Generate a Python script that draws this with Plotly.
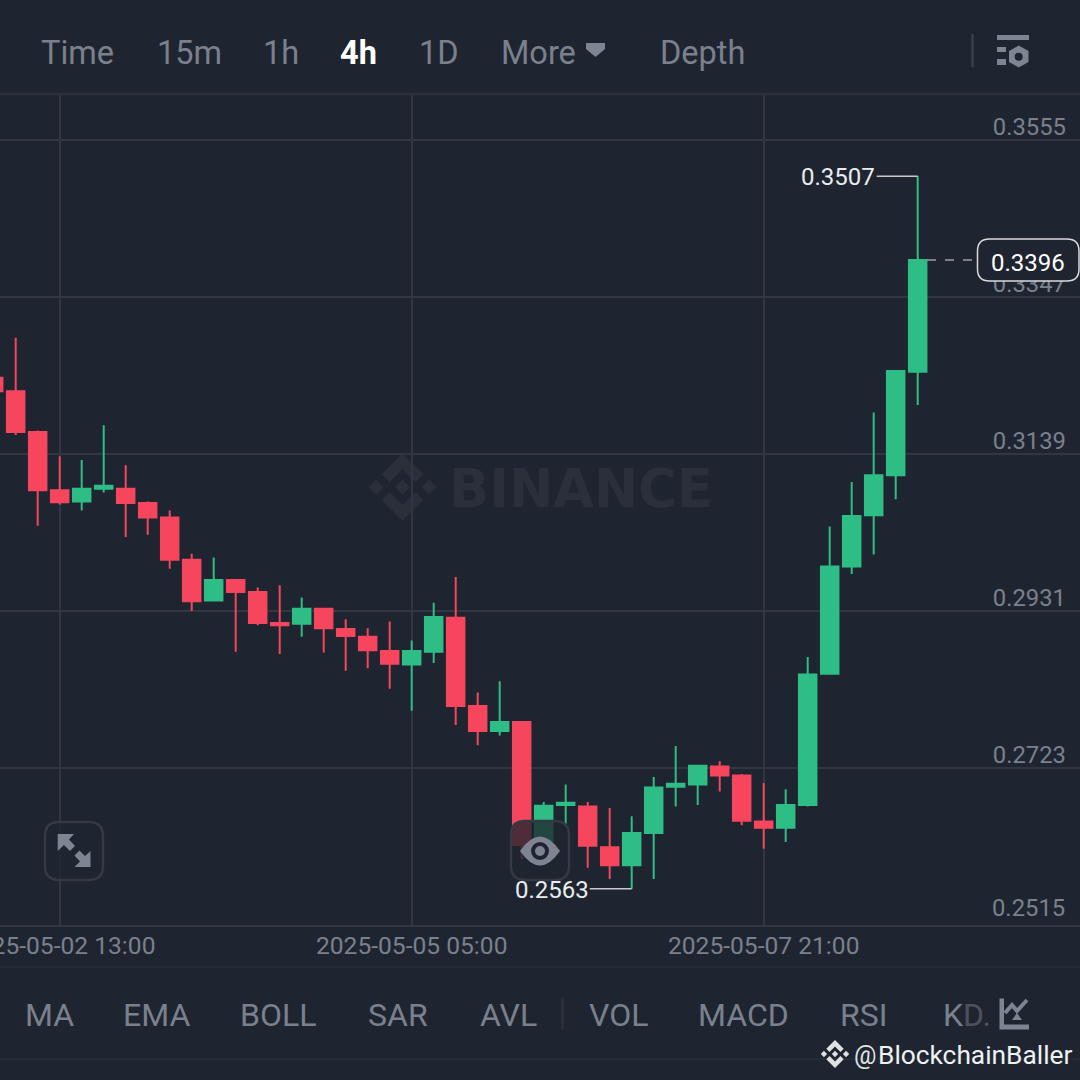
import pandas as pd
import plotly.graph_objects as go

# colours
bg = '#1f2530'
up = '#2ebd85'
down = '#f6465d'
grid = '#313641'
grey = '#7a808d'
icon = '#7e8492'
white = '#eaecef'

# 4h candles, first one is mostly off screen
dates = pd.date_range('2025-05-02 01:00', periods=43, freq='4h')
opens = [0.3240, 0.3222, 0.3168, 0.3091, 0.3076, 0.3093, 0.3093, 0.3074, 0.3055, 0.2999, 0.2945,
         0.2972, 0.2956, 0.2915, 0.2914, 0.2934, 0.2907, 0.2897, 0.2878, 0.2860, 0.2877, 0.2922,
         0.2805, 0.2772, 0.2784, 0.2621, 0.2674, 0.2672, 0.2618, 0.2594, 0.2637, 0.2698, 0.2701,
         0.2725, 0.2713, 0.2652, 0.2644, 0.2674, 0.2848, 0.2990, 0.3058, 0.3111, 0.3248]
closes = [0.3222, 0.3168, 0.3091, 0.3075, 0.3093, 0.3097, 0.3074, 0.3055, 0.2999, 0.2944, 0.2972,
          0.2956, 0.2915, 0.2912, 0.2934, 0.2908, 0.2898, 0.2879, 0.2861, 0.2878, 0.2923, 0.2805,
          0.2772, 0.2784, 0.2621, 0.2673, 0.2677, 0.2620, 0.2594, 0.2637, 0.2697, 0.2702, 0.2726,
          0.2713, 0.2653, 0.2644, 0.2674, 0.2847, 0.2990, 0.3057, 0.3111, 0.3249, 0.3396]
highs = [0.3246, 0.3293, 0.3170, 0.3136, 0.3131, 0.3177, 0.3124, 0.3076, 0.3064, 0.3007, 0.3002,
         0.2973, 0.2962, 0.2965, 0.2949, 0.2934, 0.2920, 0.2908, 0.2917, 0.2892, 0.2942, 0.2976,
         0.2823, 0.2838, 0.2785, 0.2678, 0.2701, 0.2678, 0.2670, 0.2659, 0.2711, 0.2752, 0.2727,
         0.2732, 0.2715, 0.2703, 0.2695, 0.2870, 0.3043, 0.3102, 0.3194, 0.3249, 0.3507]
lows = [0.3218, 0.3164, 0.3044, 0.3072, 0.3064, 0.3088, 0.3029, 0.3032, 0.2987, 0.2931, 0.2945,
        0.2877, 0.2912, 0.2874, 0.2897, 0.2876, 0.2852, 0.2855, 0.2828, 0.2799, 0.2862, 0.2780,
        0.2753, 0.2766, 0.2602, 0.2612, 0.2645, 0.2591, 0.2576, 0.2563, 0.2576, 0.2672, 0.2674,
        0.2692, 0.2647, 0.2616, 0.2625, 0.2672, 0.2848, 0.2980, 0.3006, 0.3079, 0.3204]

y_ticks = [0.2723, 0.2931, 0.3139, 0.3347, 0.3555]
x_ticks = ['2025-05-02 13:00', '2025-05-05 05:00', '2025-05-07 21:00']
last_price = 0.3396
i_high = highs.index(max(highs))
i_low = lows.index(min(lows))

top_items = [('Time', 39.5), ('15m', 155.5), ('1h', 261.5), ('1D', 417.5), ('More', 499.5), ('Depth', 658.5)]
bottom_items = [('MA', 24), ('EMA', 122), ('BOLL', 239), ('SAR', 367), ('AVL', 479), ('VOL', 588), ('MACD', 697), ('RSI', 839)]


def fx(x):
    return x / 1080


def fy(y):
    return 1 - y / 1080


def poly(pts):
    return 'M ' + ' L '.join(f'{fx(x):.5f},{fy(y):.5f}' for x, y in pts) + ' Z'


def round_rect(x0, y0, x1, y1, r):
    return (f'M {fx(x0 + r):.5f},{fy(y0):.5f} L {fx(x1 - r):.5f},{fy(y0):.5f} Q {fx(x1):.5f},{fy(y0):.5f} {fx(x1):.5f},{fy(y0 + r):.5f} '
            f'L {fx(x1):.5f},{fy(y1 - r):.5f} Q {fx(x1):.5f},{fy(y1):.5f} {fx(x1 - r):.5f},{fy(y1):.5f} '
            f'L {fx(x0 + r):.5f},{fy(y1):.5f} Q {fx(x0):.5f},{fy(y1):.5f} {fx(x0):.5f},{fy(y1 - r):.5f} '
            f'L {fx(x0):.5f},{fy(y0 + r):.5f} Q {fx(x0):.5f},{fy(y0):.5f} {fx(x0 + r):.5f},{fy(y0):.5f} Z')


fig = go.Figure()
fig.add_trace(go.Candlestick(x=dates, open=opens, high=highs, low=lows, close=closes,
                             increasing=dict(line=dict(color=up, width=2), fillcolor=up),
                             decreasing=dict(line=dict(color=down, width=2), fillcolor=down),
                             whiskerwidth=0))


def add_path(path, color, line=None, width=0, layer='above'):
    fig.add_shape(type='path', path=path, xref='paper', yref='paper', fillcolor=color, layer=layer,
                  line=dict(color=line or color, width=width))


def add_line(x0, y0, x1, y1, color, width=1):
    fig.add_shape(type='line', xref='paper', yref='paper', x0=fx(x0), y0=fy(y0), x1=fx(x1), y1=fy(y1),
                  line=dict(color=color, width=width))


def add_text(text, x, y, size, color, anchor='left', family='Roboto', weight=None):
    fig.add_annotation(text=text, xref='paper', yref='paper', x=fx(x), y=fy(y), xanchor=anchor, yanchor='middle',
                       showarrow=False, borderpad=0, font=dict(size=size, color=color, family=family, weight=weight))


def add_logo(cx, cy, r, color, layer='above'):
    d = 0.225
    for sx, sy in [(0, 0), (-0.79, 0), (0.79, 0)]:
        add_path(poly([(cx + (sx - d) * r, cy + sy * r), (cx + sx * r, cy - d * r), (cx + (sx + d) * r, cy), (cx + sx * r, cy + d * r)]), color, layer=layer)
    for s in (-1, 1):
        add_path(poly([(cx, cy + s * r), (cx + 0.62 * r, cy + s * 0.38 * r), (cx + 0.39 * r, cy + s * 0.15 * r), (cx, cy + s * 0.54 * r),
                       (cx - 0.39 * r, cy + s * 0.15 * r), (cx - 0.62 * r, cy + s * 0.38 * r)]), color, layer=layer)


# watermark
add_logo(402.5, 487, 33.5, '#2a2f3a', layer='below')
add_text('BINANCE', 448, 488, 52.8, '#2a2f3a', family='DejaVu Sans', weight='bold')

# page rules
add_line(0, 94, 1080, 94, '#2a2f3a', 2.5)
add_line(0, 967, 1080, 967, '#2a2f3a', 1.5)
add_line(0, 1059, 1080, 1059, '#2a2f3a', 1.5)

# top bar
for label, x in top_items:
    add_text(label, x, 53, 32.5, grey)
add_text('4h', 338.5, 53, 32.5, '#ffffff', weight='bold')
add_path(poly([(586, 43), (605, 43), (605, 49), (595.5, 57), (586, 49)]), icon)
add_line(972.5, 34, 972.5, 67, '#3a3f4b', 2.5)
add_path(poly([(997, 35), (1029, 35), (1029, 40), (997, 40)]), icon)
add_path(poly([(997, 47), (1006, 47), (1006, 52), (997, 52)]), icon)
add_path(poly([(997, 59), (1006, 59), (1006, 65), (997, 65)]), icon)
add_path(poly([(1018.7, 45.5), (1028.5, 51), (1028.5, 62), (1018.7, 67.5), (1009, 62), (1009, 51)]), icon)
fig.add_shape(type='circle', xref='paper', yref='paper', x0=fx(1014.7), x1=fx(1022.7), y0=fy(52.7), y1=fy(60.7),
              fillcolor=bg, line=dict(width=0))

# bottom bar
for label, x in bottom_items:
    add_text(label, x, 1015, 32, grey)
add_text(f'K<span style="color:#4c515d">D.</span>', 942, 1015, 32, grey)
add_line(562.5, 997, 562.5, 1029, '#2e333e', 2)
add_path(poly([(999.5, 998.5), (1004, 998.5), (1004, 1024.5), (1029, 1024.5), (1029, 1029.5), (999.5, 1029.5)]), icon)
fig.add_shape(type='path', xref='paper', yref='paper',
              path=f'M {fx(1005):.5f},{fy(1013):.5f} L {fx(1012):.5f},{fy(1005):.5f} L {fx(1017):.5f},{fy(1011):.5f} L {fx(1027):.5f},{fy(1000):.5f}',
              line=dict(color=icon, width=4))
add_path(poly([(1012, 1020), (1017, 1013), (1022, 1020)]), icon)
add_logo(835, 1054, 14, '#dfe1e5')
add_text('@', 853, 1055, 25, '#dfe1e5')
add_text('BlockchainBaller', 877, 1055, 26.3, '#eef0f2')

# expand button
add_path(round_rect(45, 822, 103, 880, 14), 'rgba(31,37,48,0.75)', '#343944', 2.5)
add_path(poly([(57.7, 834), (74, 834), (69, 839.5), (75, 846), (70, 851), (64, 845), (57.7, 851)]), icon)
add_path(poly([(90.5, 851), (90.5, 867), (74.5, 867), (80, 861.5), (74.5, 855.5), (79.5, 850.5), (85, 856)]), icon)

# eye button, candles behind it show through dimmed
add_path(round_rect(511, 821, 569, 880, 14), 'rgba(31,37,48,0.78)', '#343944', 2.5)
add_path(f'M {fx(520):.5f},{fy(851):.5f} Q {fx(540):.5f},{fy(822):.5f} {fx(560):.5f},{fy(851):.5f} '
         f'Q {fx(540):.5f},{fy(880):.5f} {fx(520):.5f},{fy(851):.5f} Z', icon)
fig.add_shape(type='circle', xref='paper', yref='paper', x0=fx(531), x1=fx(549), y0=fy(842), y1=fy(860), fillcolor=bg, line=dict(width=0))
fig.add_shape(type='circle', xref='paper', yref='paper', x0=fx(535), x1=fx(545), y0=fy(846), y1=fy(856), fillcolor=icon, line=dict(width=0))

# high / low callouts
fig.add_shape(type='line', xref='x', yref='y', xsizemode='pixel', xanchor=dates[i_high], x0=-41, x1=0,
              y0=highs[i_high], y1=highs[i_high], line=dict(color='#c8cacf', width=1.5))
fig.add_annotation(x=dates[i_high], y=highs[i_high], text=f'{highs[i_high]:.4f}', showarrow=False, xanchor='right', xshift=-42,
                   yshift=-1, borderpad=0, font=dict(size=24, color=white, family='Roboto'))
fig.add_shape(type='line', xref='x', yref='y', xsizemode='pixel', xanchor=dates[i_low], x0=-42, x1=0,
              y0=lows[i_low], y1=lows[i_low], line=dict(color='#c8cacf', width=1.5))
fig.add_annotation(x=dates[i_low], y=lows[i_low], text=f'{lows[i_low]:.4f}', showarrow=False, xanchor='right', xshift=-42,
                   yshift=-1, borderpad=0, font=dict(size=24, color=white, family='Roboto'))

# last price tag
fig.add_shape(type='line', xref='paper', yref='y', x0=fx(927), x1=fx(977), y0=last_price, y1=last_price,
              line=dict(color='#9a9ea8', width=1.5, dash='dash'))
add_path(round_rect(977.5, 239, 1079, 281, 12), bg, '#d8dade', 1.5)
add_text(f'{last_price:.4f}', 1028, 263, 24, '#ffffff', anchor='center')

# bottom price label sits a bit higher than the others
fig.add_annotation(xref='paper', x=fx(1065.5), y=0.2515, text='0.2515', showarrow=False, xanchor='right', yanchor='middle', yshift=17,
                   borderpad=0, font=dict(size=23.8, color=grey, family='Roboto'))

fig.update_layout(
    width=1080, height=1080, autosize=False, margin=dict(l=0, r=0, t=0, b=0, pad=0),
    paper_bgcolor=bg, plot_bgcolor=bg, showlegend=False, boxgap=0.205, boxgroupgap=0,
    font=dict(family='Roboto', size=23.5, color=grey),
    xaxis=dict(type='date', range=['2025-05-02 02:08:44', '2025-05-10 06:30:33'], rangeslider=dict(visible=False),
               tickvals=x_ticks, tickformat='%Y-%m-%d %H:%M', ticklabeloverflow='allow', ticklen=0,
               ticklabelstandoff=-2, tickfont=dict(size=24.6, color=grey), automargin=False,
               showgrid=True, gridcolor=grid, gridwidth=1.5, zeroline=False,
               showline=True, linecolor=grid, linewidth=1.5, anchor='y'),
    yaxis=dict(range=[0.2515, 0.36146], domain=[fy(925), fy(95)], side='right', tickvals=y_ticks,
               tickformat='.4f', ticklabelposition='inside', ticklabelstandoff=11, ticklabelshift=-13, ticklen=0,
               tickfont=dict(size=23.8, color=grey), automargin=False,
               showgrid=True, gridcolor=grid, gridwidth=1.5, zeroline=False, showline=False, anchor='x'),
)

fig.write_html("out.html", config=dict(displayModeBar=False), post_script="document.body.style.margin='0';")
